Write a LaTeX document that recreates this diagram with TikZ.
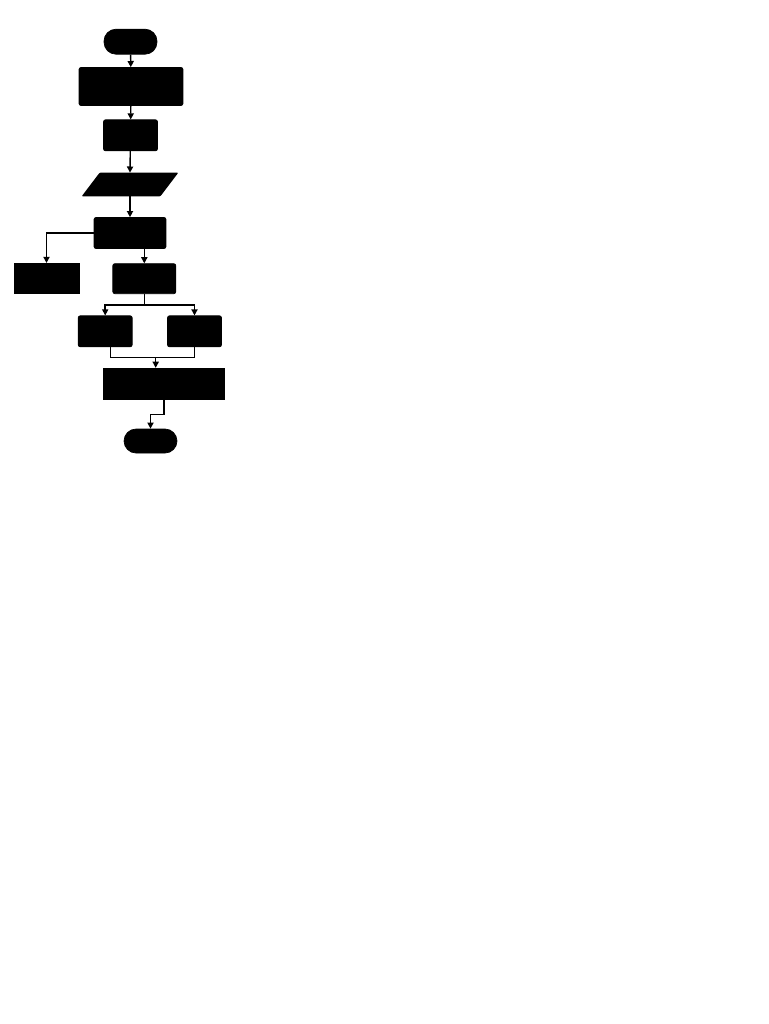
\documentclass[tikz,border=0pt]{standalone}
\usepackage{tikz}
\usetikzlibrary{calc, positioning}
\usetikzlibrary{arrows.meta}

\begin{document}
\begin{tikzpicture}[x=0.02cm, y=-0.02cm,
  terminal/.style={fill=black, draw=black, rounded corners=0.24cm, inner sep=0pt},
  process/.style={fill=black, draw=black, rounded corners=0.04cm, inner sep=0pt},
  plainbox/.style={fill=black, draw=black, inner sep=0pt},
  iobox/.style={inner sep=0pt},
  flow/.style={line width=0.8pt, -{Triangle[length=3.5pt,width=3.5pt]}},
  link/.style={line width=0.8pt}]
\useasboundingbox (0,0) rectangle (768,1024);

\node[terminal, minimum width=1.06cm, minimum height=0.5cm] (start) at (130.5,41.7) {};
\node[process, minimum width=2.08cm, minimum height=0.76cm] (init) at (131,86.5) {};
\node[process, minimum width=1.08cm, minimum height=0.62cm] (prep) at (130.5,135.3) {};
\node[iobox, minimum width=1.56cm, minimum height=0.46cm] (input) at (130,184.5) {};
\node[process, minimum width=1.44cm, minimum height=0.62cm] (check) at (130,233) {};
\node[plainbox, minimum width=1.3cm, minimum height=0.6cm] (reject) at (46.5,278.3) {};
\node[process, minimum width=1.26cm, minimum height=0.6cm] (handle) at (144.3,278.7) {};
\node[process, minimum width=1.08cm, minimum height=0.62cm] (left) at (105.2,331.3) {};
\node[process, minimum width=1.08cm, minimum height=0.62cm] (right) at (194.5,331.3) {};
\node[plainbox, minimum width=2.42cm, minimum height=0.62cm] (merge) at (163.8,383.7) {};
\node[terminal, minimum width=1.06cm, minimum height=0.48cm] (stop) at (150.5,441) {};

%parallelogram round the input node
\fill[rounded corners=0.02cm] ([xshift=-0.18cm]input.south west) -- ([xshift=-0.18cm]input.south east)
  -- ([xshift=0.18cm]input.north east) -- ([xshift=0.18cm]input.north west) -- cycle;

\coordinate (join) at (155.7,357.3);

\draw[flow] (start) -- (init);
\draw[flow] (init) -- (prep);
\draw[flow] (prep) -- (input.north);
\draw[flow] (input.south) -- (check);
\draw[flow] (check.west) -| (reject.north);
\draw[flow] (check.south -| handle.north) -- (handle.north);
\draw[flow] (handle.south) -- ++(0,11) -| (left.north);
\draw[flow] (handle.south) -- ++(0,11) -| (right.north);
\draw[link] ([xshift=0.11cm]left.south) |- (join);
\draw[link] (right.south) |- (join);
\draw[flow] (join) -- (join |- merge.north);
\draw[flow] (merge.south) -- ++(0,15) -| (stop.north);
\end{tikzpicture}
\end{document}
